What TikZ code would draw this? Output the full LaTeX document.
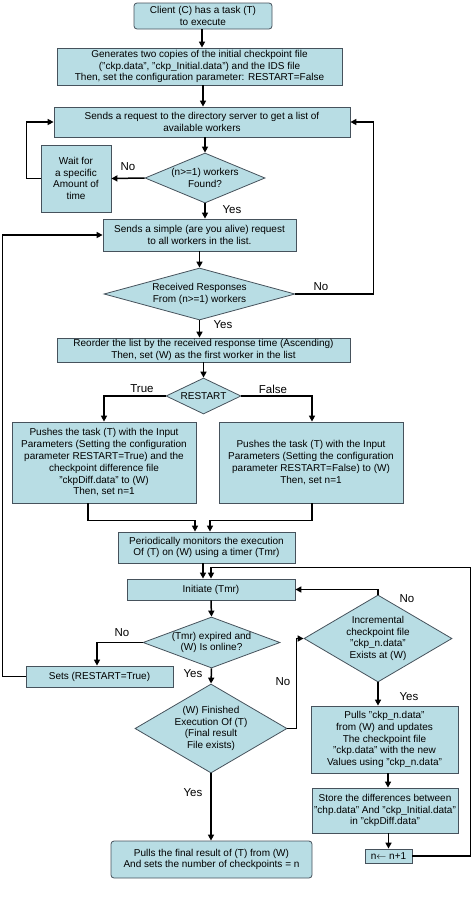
\documentclass[tikz,border=0pt]{standalone}
\usepackage{fontspec}
\setmainfont{Liberation Sans}
\usetikzlibrary{arrows.meta, shapes.geometric}
\definecolor{cell}{RGB}{184,221,228}
\definecolor{edge}{RGB}{70,82,92}

\begin{document}
\begin{tikzpicture}[x=1pt, y=-1pt,
    font=\fontsize{10}{11.8}\selectfont,
    box/.style={draw=edge, fill=cell, line width=0.8pt, align=center, inner sep=1pt},
    term/.style={box, rounded corners=3pt},
    dec/.style={draw=edge, fill=cell, line width=0.8pt, diamond, align=center, inner sep=0pt},
    arr/.style={-{Triangle[length=6pt, width=6pt]}, line width=1.5pt},
    lbl/.style={font=\fontsize{11.5}{13}\selectfont}]
        \useasboundingbox (0,0) rectangle (474,905);
        % boxes and decisions
        \node[term, minimum width=138pt, minimum height=26pt] (C) at (203,16) {Client (C) has a task (T)\\ to execute};
        \node[box, minimum width=285pt, minimum height=37pt] (Gen) at (199.5,66.5) {Generates two copies of the initial checkpoint file\\ ("ckp.data", "ckp\_Initial.data") and the IDS file\\ Then, set the configuration parameter: RESTART=False};
        \node[box, minimum width=296pt, minimum height=30pt] (Req) at (202,122) {Sends a request to the directory server to get a list of\\ available workers};
        \node[dec, minimum width=120pt, minimum height=50pt, aspect=2.4] (Found) at (205,178) {(n>=1) workers\\ Found?};
        \node[box, minimum width=70pt, minimum height=67pt] (Wait) at (76,178.5) {Wait for\\ a specific\\ Amount of\\ time};
        \node[box, minimum width=193pt, minimum height=32pt] (Alive) at (199.5,235) {Sends a simple (are you alive) request\\ to all workers in the list.};
        \node[dec, minimum width=191pt, minimum height=52pt, aspect=3.6] (Resp) at (199.5,294) {Received Responses\\ From (n>=1) workers};
        \node[box, minimum width=293pt, minimum height=24pt] (Ord) at (203.5,350) {Reorder the list by the received response time (Ascending)\\ Then, set (W) as the first worker in the list};
        \node[dec, minimum width=75pt, minimum height=36pt, aspect=2.1] (R) at (203.5,396) {RESTART};
        \node[box, minimum width=184pt, minimum height=81pt] (PT) at (104,462.5) {Pushes the task (T) with the Input\\ Parameters (Setting the configuration\\ parameter RESTART=True) and the\\ checkpoint difference file\\ "ckpDiff.data" to (W)\\ Then, set n=1};
        \node[box, minimum width=184pt, minimum height=81pt] (PF) at (311,462.5) {Pushes the task (T) with the Input\\ Parameters (Setting the configuration\\ parameter RESTART=False) to (W)\\ Then, set n=1};
        \node[box, minimum width=177pt, minimum height=31pt] (Mon) at (206.5,547.5) {Periodically monitors the execution\\ Of (T) on (W) using a timer (Tmr)};
        \node[box, minimum width=168pt, minimum height=21pt] (Init) at (211,589.5) {Initiate (Tmr)};
        \node[dec, minimum width=137pt, minimum height=51pt, aspect=2.7] (Exp) at (211.5,642.5) {(Tmr) expired and\\ (W) Is online?};
        \node[box, minimum width=147pt, minimum height=21pt] (Set) at (99.5,676.5) {Sets (RESTART=True)};
        \node[dec, minimum width=152pt, minimum height=89pt, aspect=1.7] (Fin) at (211,728.5) {(W) Finished\\ Execution Of (T)\\ (Final result\\ File exists)};
        \node[dec, minimum width=148pt, minimum height=87pt, aspect=1.7] (Inc) at (378,638.5) {Incremental\\ checkpoint file\\ "ckp\_n.data"\\ Exists at (W)};
        \node[box, minimum width=147pt, minimum height=67pt] (Pull) at (384.5,739.5) {Pulls "ckp\_n.data"\\ from (W) and updates\\ The checkpoint file\\ "ckp.data" with the new\\ Values using "ckp\_n.data"};
        \node[box, minimum width=146pt, minimum height=45pt] (Store) at (385,810.5) {Store the differences between\\ "chp.data" And "ckp\_Initial.data"\\ in "ckpDiff.data"};
        \node[box, minimum width=47pt, minimum height=14pt] (N) at (388.5,856) {n$\leftarrow$ n+1};
        \node[term, minimum width=201pt, minimum height=37pt] (Res) at (211.5,859.5) {Pulls the final result of (T) from (W)\\ And sets the number of checkpoints = n};
        % branch labels
        \node[lbl] (no1) at (128,167) {No};
        \node[lbl] (yes1) at (232,210) {Yes};
        \node[lbl] (no2) at (321,287) {No};
        \node[lbl] (yes2) at (223,325) {Yes};
        \node[lbl] (tr) at (142,389) {True};
        \node[lbl] (fa) at (273,389) {False};
        \node[lbl] (no3) at (122,633) {No};
        \node[lbl] (yes3) at (193,674) {Yes};
        \node[lbl] (no4) at (283,682) {No};
        \node[lbl] (no5) at (407,599) {No};
        \node[lbl] (yes4) at (409,697) {Yes};
        \node[lbl] (yes5) at (193,793) {Yes};
        % connectors
        \draw[arr] ([xshift=-1pt]C.south) -- ([xshift=-1pt]C.south |- Gen.north);
        \draw[arr] ([xshift=3.5pt]Gen.south) -- ([xshift=3.5pt]Gen.south |- Req.north);
        \draw[arr] (Req.south -| Found.north) -- (Found.north);
        \draw[arr] (Found.west) -- (Wait.east);
        \draw[arr] (Wait.west) -- ++(-14,0) |- (Req.west);
        \draw[arr] (Found.south) -- (Found.south |- Alive.north);
        \draw[arr] (Alive.south) -- (Resp.north);
        \draw[arr] (Resp.east) -- ++(78,0) |- (Req.east);
        \draw[arr] (Resp.south) -- (Resp.south |- Ord.north);
        \draw[arr] (Ord.south) -- (R.north);
        \draw[arr] (R.west) -| (PT.north);
        \draw[arr] (R.east) -| ([xshift=1pt]PF.north);
        \draw[arr] ([xshift=-16pt]PT.south) -- ++(0,17) -| ([xshift=-11.5pt]Mon.north);
        \draw[arr] ([xshift=1pt]PF.south) -- ++(0,17) -| ([xshift=3.5pt]Mon.north);
        \draw[arr] ([xshift=-3.5pt]Mon.south) -- ([xshift=-3.5pt]Mon.south |- Init.north);
        \draw[arr] (N.east) -- ++(58,0) |- ([yshift=11pt]Init.north) -- (Init.north);
        \draw[arr] (Inc.north) |- (Init.east);
        \draw[arr] (Init.south) -- (Exp.north);
        \draw[arr] (Exp.west) -| ([xshift=-2.5pt]Set.north);
        \draw[arr] (Set.west) -- ++(-23,0) |- (Alive.west);
        \draw[arr] (Exp.south) -- (Fin.north);
        \draw[arr] (Fin.east) -- ++(9,0) |- (Inc.west);
        \draw[arr] (Inc.south) -- (Inc.south |- Pull.north);
        \draw[arr] ([xshift=3.5pt]Pull.south) -- ([xshift=3.5pt]Pull.south |- Store.north);
        \draw[arr] (Store.south -| N.north) -- (N.north);
        \draw[arr] (Fin.south) -- (Fin.south |- Res.north);
\end{tikzpicture}
\end{document}
